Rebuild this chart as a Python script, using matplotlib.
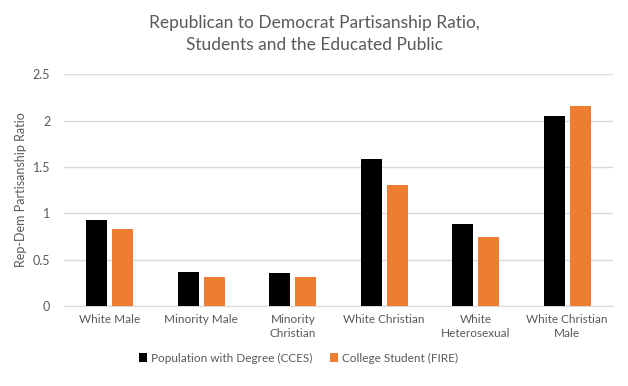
# Republican to Democrat partisanship ratio, CCES vs FIRE.

import numpy as np
import matplotlib.pyplot as plt

plt.rcParams["font.family"] = ["Lato", "DejaVu Sans"]

categories = ["White Male", "Minority Male", "Minority\nChristian", "White Christian",
              "White\nHeterosexual", "White Christian\nMale"]
cces = [0.93, 0.37, 0.36, 1.58, 0.88, 2.05]
fire = [0.83, 0.31, 0.31, 1.31, 0.75, 2.16]
yticks = [0, 0.5, 1, 1.5, 2, 2.5]
ytick_labels = ["0", "0.5", "1", "1.5", "2", "2.5"]

text_color = "#595959"

fig = plt.figure(figsize=(6.28, 3.86), dpi=100)
ax = fig.add_axes([0.102, 0.207, 0.874, 0.601])

x = np.arange(len(categories))
width = 0.23
ax.bar(x - 0.142, cces, width, color="black", label="Population with Degree (CCES)", zorder=3)
ax.bar(x + 0.142, fire, width, color="#ed7d31", label="College Student (FIRE)", zorder=3)

ax.set_xlim(-0.5, len(categories) - 0.5)
ax.set_ylim(0, 2.5)
ax.set_yticks(yticks)
ax.set_yticklabels(ytick_labels)
ax.set_xticks(x)
ax.set_xticklabels(categories, fontsize=8.5, color=text_color, linespacing=1.3)
ax.tick_params(axis="y", labelsize=9, colors=text_color, length=0, pad=10)
ax.tick_params(axis="x", length=0, pad=6)
ax.yaxis.grid(True, color="#d9d9d9", linewidth=1, zorder=0)
for side in ["top", "right", "left"]:
    ax.spines[side].set_visible(False)
ax.spines["bottom"].set_color("#d9d9d9")

ax.set_ylabel("Rep-Dem Partisanship Ratio", fontsize=9, color=text_color, labelpad=4)

fig.suptitle("Republican to Democrat Partisanship Ratio,\nStudents and the Educated Public",
             fontsize=12.5, color=text_color, y=0.96, linespacing=1.45)

fig.legend(loc="center", bbox_to_anchor=(0.475, 0.072), ncol=2, frameon=False,
           fontsize=8.5, labelcolor=text_color, handlelength=0.7, handleheight=0.7,
           handletextpad=0.3, columnspacing=1.5)

fig.savefig("out.png", dpi=100)
